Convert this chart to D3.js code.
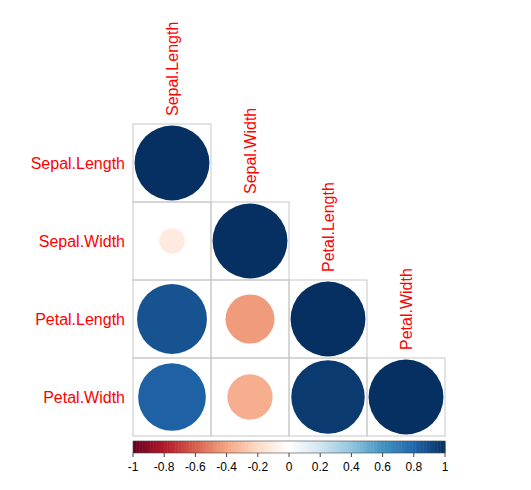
<!DOCTYPE html>
<html><head><meta charset="utf-8">
<script src="https://cdn.jsdelivr.net/npm/d3@7"></script>
<style>body{margin:0;background:#fff}</style>
</head><body><svg id="c" width="531" height="490"></svg>
<script>
const variables = ["Sepal.Length","Sepal.Width","Petal.Length","Petal.Width"];
const corr = [
  [1.000,-0.118,0.872,0.818],
  [-0.118,1.000,-0.428,-0.366],
  [0.872,-0.428,1.000,0.963],
  [0.818,-0.366,0.963,1.000]
];
const paletteColors = ["#67001F","#B2182B","#D6604D","#F4A582","#FDDBC7","#FFFFFF","#D1E5F0","#92C5DE","#4393C3","#2166AC","#053061"];
const legendTicks = [-1,-0.8,-0.6,-0.4,-0.2,0,0.2,0.4,0.6,0.8,1];

const svg = d3.select("#c");
const font = "Liberation Sans, Arial, sans-serif";
const x = d3.scaleBand().domain(variables).range([133,445]);
const y = d3.scaleBand().domain(variables).range([124,436]);
const color = d3.scaleLinear().domain(d3.range(11).map(i=>-1+i*0.2)).range(paletteColors);
const cs = x.bandwidth();
const rScale = d3.scaleSqrt().domain([0,1]).range([0,cs/2*0.96]);

const cells = [];
variables.forEach((rv,i)=>variables.forEach((cv,j)=>{ if(j<=i) cells.push({r:rv,c:cv,v:corr[i][j]}); }));

svg.selectAll("circle.m").data(cells).enter().append("circle")
  .attr("cx",d=>x(d.c)+cs/2).attr("cy",d=>y(d.r)+cs/2)
  .attr("r",d=>rScale(Math.abs(d.v))).attr("fill",d=>color(d.v));
svg.selectAll("rect.g").data(cells).enter().append("rect")
  .attr("x",d=>x(d.c)).attr("y",d=>y(d.r)).attr("width",cs).attr("height",cs)
  .attr("fill","none").attr("stroke","#c8c8c8").attr("stroke-width",1);

// row labels
svg.selectAll("text.row").data(variables).enter().append("text")
  .attr("x",125).attr("y",d=>y(d)+cs/2).attr("dy","0.35em").attr("text-anchor","end")
  .attr("fill","red").attr("font-family",font).attr("font-size",16).text(d=>d);
// column labels
svg.selectAll("text.col").data(variables).enter().append("text")
  .attr("transform",d=>`translate(${x(d)+cs/2+6},${y(d)-8}) rotate(-90)`)
  .attr("text-anchor","start").attr("fill","red").attr("font-family",font).attr("font-size",16).text(d=>d);

// colorbar
const lx = d3.scaleLinear().domain([-1,1]).range([133,445]);
const n = 200;
svg.selectAll("rect.cb").data(d3.range(n)).enter().append("rect")
  .attr("x",i=>lx(-1+2*i/n)).attr("y",441).attr("width",312/n+0.5).attr("height",12)
  .attr("fill",i=>color(-1+2*(i+0.5)/n));
svg.append("rect").attr("x",133).attr("y",441).attr("width",312).attr("height",12)
  .attr("fill","none").attr("stroke","#444").attr("stroke-width",0.6);
svg.selectAll("line.t").data(legendTicks).enter().append("line")
  .attr("x1",d=>lx(d)).attr("x2",d=>lx(d)).attr("y1",453).attr("y2",457).attr("stroke","#444");
svg.selectAll("text.t").data(legendTicks).enter().append("text")
  .attr("x",d=>lx(d)).attr("y",471).attr("text-anchor","middle")
  .attr("font-family",font).attr("font-size",12).attr("fill","#000").text(d=>d);
</script></body></html>
